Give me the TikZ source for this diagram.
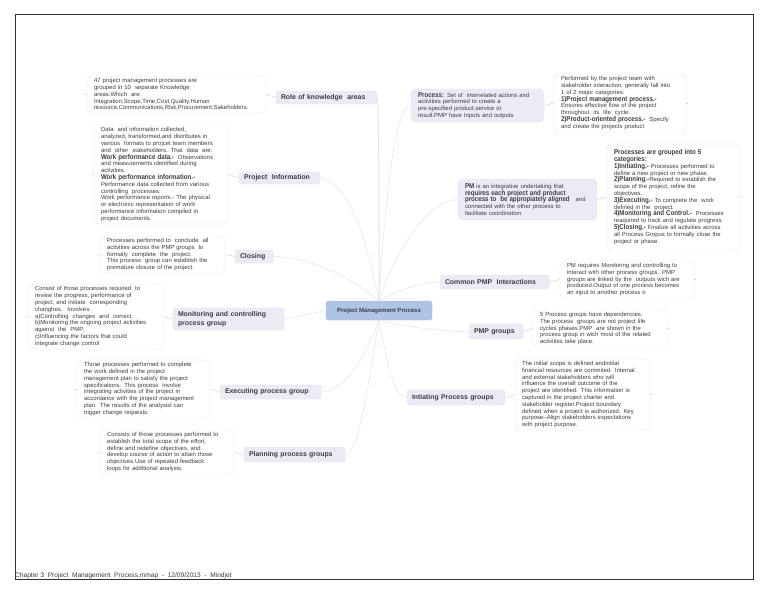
\documentclass[tikz,border=0pt]{standalone}
\usepackage{fontspec}
\setmainfont{Liberation Sans}
\newfontfamily\hdf[FakeStretch=0.88,UprightFont=* Bold]{Liberation Sans}
\newcommand\hd[1]{{\fontsize{7}{6.9}\selectfont\hdf #1}}
\tikzset{
  x=1pt,y=-1pt,
  hub/.style={draw=hubline,fill=hubfill,rounded corners=2.5pt,font=\fontsize{6}{7}\selectfont\bfseries,text=ink,inner sep=0pt},
  topic/.style={draw=topicline,fill=topicfill,rounded corners=2.5pt,font=\fontsize{6.9}{9.5}\selectfont\bfseries,text=ink,inner xsep=5pt,inner ysep=0pt,align=left},
  para/.style={draw=topicline,fill=topicfill,rounded corners=5pt,font=\fontsize{5.95}{6.8}\selectfont,text=ink,inner xsep=7pt,inner ysep=0pt,align=left},
  note/.style={draw=noteline,fill=white,rounded corners=5pt,font=\fontsize{5.95}{6.8}\selectfont,text=ink,inner xsep=7pt,inner ysep=0pt,align=left},
  branch/.style={draw=wire,line width=0.5pt},
  trunk/.style={draw=wire,line width=1pt},
  stub/.style={draw=stubc,line width=0.5pt},
}
\definecolor{hubline}{HTML}{A9C0E2}
\definecolor{hubfill}{HTML}{AEC4E6}
\definecolor{topicline}{HTML}{E3E5EF}
\definecolor{topicfill}{HTML}{EAEBF4}
\definecolor{noteline}{HTML}{E6E6EA}
\definecolor{ink}{HTML}{3C3C42}
\definecolor{wire}{HTML}{E4E4E6}
\definecolor{stubc}{HTML}{D4D4D8}
\definecolor{frameink}{HTML}{333333}
\begin{document}
\begin{tikzpicture}
\useasboundingbox (0,0) rectangle (768,594);
\fill[white] (0,0) rectangle (768,594);
\coordinate (fa) at (15,15);
\coordinate (fb) at (753,15);
\coordinate (fc) at (753,579);
\coordinate (fd) at (15,579);
\draw[frameink,line width=1pt] (fa) -- (fb) -- (fc) -- (fd) -- cycle;

\node[hub,minimum width=106pt,minimum height=19pt] (c) at (379,310.5) {Project Management Process};

% left
\node[topic,text width=91pt,minimum height=13pt] (role) at (326.5,97.5) {Role of knowledge~ areas};
\node[note,text width=165pt,minimum height=37pt] (rolen) at (176.5,94.5) {47 project management processes are\\grouped in 10~ separate Knowledge\\areas.Which~ are:\\Integration,Scope,Time,Cost,Quality,Human\\resource,Communications,Risk,Procurement,Sakeholders.};
\node[topic,text width=71pt,minimum height=12pt] (info) at (279.5,178) {Project~ Information};
\node[note,text width=120pt,minimum height=99pt] (infon) at (161,174.5) {Data~ and information collected,\\analyzed, transformed,and distributes in\\various~ formats to projcet team members\\and~ other~ stakeholders. That~ data~ are:\\\hd{Work performance data.-}~ Observations\\and measurements identified during\\activities.\\\hd{Work performance information.-}\\Performance data collected from various\\controlling~ processes.\\Work performance reports.- The physical\\or electronic representation of work\\performance information compiled in\\project documents.};
\node[topic,text width=28pt,minimum height=13pt] (clos) at (254,256.5) {Closing};
\node[note,text width=111pt,minimum height=37pt] (closn) at (162.5,254.5) {Processes performed to~ conclude~ all\\activities across the PMP groups~ to\\formally~ complete~ the~ project.\\This process~ group can establish the\\premature closure of the project.};
\node[topic,text width=101pt,minimum height=22pt] (moni) at (228.5,319) {Monitoring and controlling\\process group};
\node[note,text width=121pt,minimum height=65pt] (monin) at (95.5,316.5) {Consist of those processes required~ to\\review the progress, performance of\\project, and initiate~ corresponding\\changhes.~ Involves:\\a)Controlling~ changes~ and~ correct.\\b)Monitoring the ongoing project activities\\against~ the~ PMP.\\c)Influencing the factors that could\\integrate change control};
\node[topic,text width=91pt,minimum height=14pt] (exec) at (270.5,392) {Executing process group};
\node[note,text width=119pt,minimum height=58pt] (execn) at (143.5,389) {Those processes performed to complete\\the work defined in the project\\management plan to satisfy the project\\specifications. This process~ involve\\integrating activities of the project in\\accordance with the project management\\plan. The results of the analysisl can\\trigger change requests.};
\node[topic,text width=91pt,minimum height=15pt] (plan) at (294.5,454.5) {Planning process groups};
\node[note,text width=120pt,minimum height=44pt] (plann) at (167,452) {Consists of those processes performed to\\establish the total scope of the effort,\\define and redefine objectives, and\\develop course of action to attain those\\objectives.Use of repeated feedback\\loops for additional analysis.};

% right
\node[para,text width=119pt,minimum height=33pt] (proc) at (477.5,105.5) {\hd{Process:} Set of~ interrelated actions and\\activities performed to create a\\pre-specified product,service or\\result.PMP have Inputs and outputs};
\node[note,text width=118pt,minimum height=58pt] (procn) at (620,103) {Performed by the project team with\\stakeholder interaction, generally fall into\\1 of 2 major categories:\\\hd{1)Project management process.-}\\Ensures effective flow of the project\\throughout~ its~ life~ cycle.\\\hd{2)Product-oriented process.-}~ Specify\\and create the projects product};
\node[para,text width=125pt,minimum height=41pt] (pm) at (527.5,199.5) {\hd{PM} is an integrative undertaking that\\\hd{requires each project and product}\\\hd{process to~ be appropiately aligned}~~ and\\connected with the other process to\\facilitate coordination};
\node[note,text width=119pt,minimum height=106pt] (pmn) at (673.5,197) {\hd{Processes are grouped into 5}\\\hd{categories:}\\\hd{1)Initiating.-} Processes performed to\\define a new project or new phase.\\\hd{2)Planning.-}Required to establish the\\scope of the project, refine the\\objectives.\\\hd{3)Executing.-} To complete the~ work\\defined in the~ project.\\\hd{4)Monitoring and Control.-}~ Processes\\reaquired to track and regulate progress.\\\hd{5)Closing.-} Finalize all activities across\\all Process Gropus to formally close the\\project or phase.};
\node[topic,text width=99pt,minimum height=14pt] (comm) at (494.5,282) {Common PMP~ Interactions};
\node[note,text width=120pt,minimum height=37pt] (commn) at (627,279.5) {PM requires Monitoring and controlling to\\interact with other process groups. PMP\\groups are linked by the~ outputs wich are\\produced.Output of one process becomes\\an input to another process o};
\node[topic,text width=44pt,minimum height=15pt] (pmp) at (496,331.5) {PMP groups};
\node[note,text width=120pt,minimum height=37pt] (pmpn) at (600,328.5) {5 Process groups have dependencies.\\The process~ groups are not project life\\cycles phases.PMP~ are shown in the\\process group in wich most of the related\\activities take place.};
\node[topic,text width=88pt,minimum height=15pt] (init) at (456,397.5) {Intiating Process groups};
\node[note,text width=121pt,minimum height=71pt] (initn) at (582.5,394.5) {The initial scope is defined andinitial\\financial resources are commited. Internal\\and external stakeholders who will\\influence the overall outcome of the\\project are identified. This information is\\captured in the project charter and\\stakeholder register.Project boundary\\defined when a project is authorized. Key\\purpose--Align stakeholders expectations\\with project purpose.};

\node[anchor=base west,inner sep=0pt,font=\fontsize{6.6}{8}\selectfont,text=ink] (foot) at (15,577.5) {Chapter 3~ Project~ Management~ Process.mmap~ -~ 12/09/2013~ -~ Mindjet};

% connectors from the hub
\draw[trunk] (c.north) .. controls +(0,-80) and +(2,13) .. (role.east);
\draw[branch] (c.north) .. controls +(-9,-41) and +(35,7) .. (info.east);
\draw[branch] (c.north) .. controls +(-19,-16) and +(47,1.5) .. (clos.east);
\draw[branch] (c.west) -- (moni.east);
\draw[branch] (c.south) .. controls +(-9,25) and +(29,-2) .. (exec.east);
\draw[branch] (c.south) .. controls +(-9,50) and +(15,0) .. (plan.east);
\draw[branch] (c.south) .. controls +(9,50) and +(-12,0) .. (init.west);
\draw[branch] (c.south) .. controls +(15,5) and +(-30,0) .. (pmp.west);
\draw[branch] (c.north) .. controls +(21,-11) and +(-20,0) .. (comm.west);
\draw[branch] (c.north) .. controls +(16,-51) and +(-28,0) .. (pm.west);
\draw[branch] (c.north) .. controls +(6,-101) and +(-16,0) .. (proc.west);
% stubs
\foreach \a/\b in {role/rolen,info/infon,clos/closn,moni/monin,exec/execn,plan/plann}{
  \draw[stub] (\a.west) -- (\b.east);
  \draw[stub] (\b.west) -- +(-2,0);
}
\foreach \a/\b in {proc/procn,pm/pmn,comm/commn,pmp/pmpn,init/initn}{
  \draw[stub] (\a.east) -- (\b.west);
  \draw[stub] (\b.east) -- +(2,0);
}
\end{tikzpicture}
\end{document}
